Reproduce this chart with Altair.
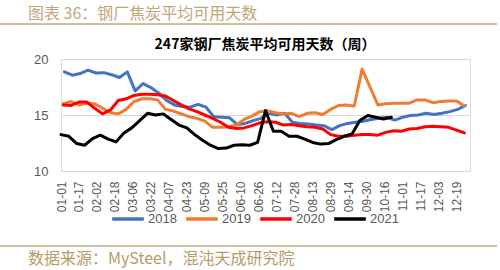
import json
import altair as alt
import pandas as pd

# ---------------- data ----------------
tick_labels = ["01-01", "01-17", "02-02", "02-18", "03-06", "03-22", "04-07", "04-23",
               "05-09", "05-25", "06-10", "06-26", "07-12", "07-28", "08-13", "08-29",
               "09-14", "09-30", "10-16", "11-01", "11-17", "12-03", "12-19"]
years = ["2018", "2019", "2020", "2021"]
colors = ["#4472C4", "#ED7D31", "#FF0000", "#000000"]
start_day = [3, 2, 2, 0]  # first weekly observation (day of year)

v2018 = [18.85, 18.55, 18.7, 19.0, 18.75, 18.78, 18.6, 18.35, 18.85, 17.15,
         17.8, 17.45, 16.95, 16.3, 15.9, 15.75, 15.7, 15.95, 15.7, 14.85,
         14.8, 14.75, 14.15, 14.25, 14.5, 14.7, 15.15, 15.0, 15.15, 14.35,
         14.25, 14.2, 14.1, 14.05, 13.7, 14.05, 14.25, 14.35, 14.45, 14.6,
         14.7, 14.8, 14.55, 14.8, 14.95, 15.0, 15.15, 15.05, 15.15, 15.3,
         15.5, 15.85]
v2019 = [16.0, 16.2, 15.9, 16.05, 16.0, 15.6, 15.2, 15.1, 15.5, 16.2,
         16.45, 16.45, 16.35, 15.5, 15.35, 15.1, 14.85, 14.7, 14.45, 13.9,
         13.9, 13.95, 14.1, 14.6, 14.9, 15.3, 15.35, 15.2, 15.1, 15.15,
         14.85, 15.15, 15.2, 15.05, 15.5, 15.85, 15.9, 15.8, 19.1, 17.5,
         15.9, 16.0, 16.05, 16.05, 16.05, 16.35, 16.35, 16.1, 16.2, 16.25,
         16.25, 15.8]
v2020 = [15.9, 15.85, 16.15, 16.15, 15.6, 15.1, 15.45, 16.3, 16.45, 16.75,
         16.85, 16.85, 16.8, 16.7, 16.3, 15.9, 15.55, 15.3, 15.0, 14.7,
         14.35, 13.9, 13.8, 13.85, 14.05, 14.3, 14.4, 14.35, 14.1, 14.15,
         14.05, 13.95, 13.9, 13.75, 13.25, 13.1, 13.1, 13.2, 13.25, 13.25,
         13.2, 13.45, 13.6, 13.55, 13.75, 13.8, 13.95, 14.0, 13.95, 13.9,
         13.65, 13.4]
v2021 = [13.25, 13.1, 12.45, 12.3, 12.9, 13.2, 12.85, 12.6, 13.4, 13.85,
         14.5, 15.15, 15.0, 15.1, 14.6, 14.1, 13.85, 13.25, 12.75, 12.3,
         12.0, 12.05, 12.3, 12.35, 12.3, 12.55, 15.4, 13.55, 13.55, 13.1,
         13.1, 12.85, 12.55, 12.4, 12.45, 12.8, 13.1, 13.3, 14.5, 14.95,
         14.8, 14.65, 14.8]

header_text = "图表 36：钢厂焦炭平均可用天数"
title_text = "247家钢厂焦炭平均可用天数（周）"
footer_text = "数据来源：MySteel，混沌天成研究院"

# --------------- table ----------------
rows = []
for yi, (yr, vals) in enumerate(zip(years, [v2018, v2019, v2020, v2021])):
    for k, v in enumerate(vals):
        rows.append({"year": yr, "order": yi, "day": start_day[yi] + 7 * k, "value": v})
df = pd.DataFrame(rows)

W, H = 409, 112
label_expr = json.dumps(tick_labels) + "[round(datum.value / 16)]"

lines = alt.Chart(df).mark_line(strokeWidth=3, strokeCap="round", strokeJoin="round").encode(
    x=alt.X("day:Q",
            scale=alt.Scale(domain=[0, 364], nice=False, zero=False),
            axis=alt.Axis(values=list(range(0, 353, 16)), labelExpr=label_expr,
                          labelAngle=270, labelFontSize=12, labelFont="Liberation Sans",
                          labelColor="#595959", labelPadding=10, ticks=False,
                          grid=False, domain=True, domainColor="#d9d9d9",
                          labelOverlap=False, title=None)),
    y=alt.Y("value:Q",
            scale=alt.Scale(domain=[10, 20], nice=False, zero=False),
            axis=alt.Axis(values=[10, 15, 20], labelFontSize=13, labelFont="Liberation Sans",
                          labelColor="#595959", labelPadding=13, ticks=False,
                          domain=False, grid=True, gridColor="#d9d9d9", title=None)),
    color=alt.Color("year:N", scale=alt.Scale(domain=years, range=colors),
                    legend=alt.Legend(orient="none", direction="horizontal",
                                      legendX=49, legendY=142, title=None,
                                      symbolType="stroke", symbolSize=1000,
                                      symbolStrokeWidth=3.5, labelFontSize=13,
                                      labelFont="Liberation Sans", labelColor="#595959",
                                      labelOffset=2, columnPadding=2, padding=0)),
    detail="year:N",
)

def text_layer(txt, x, y, size, color, weight="normal", align="left"):
    return alt.Chart(pd.DataFrame({"t": [txt]})).mark_text(
        align=align, baseline="middle", fontSize=size, font="Noto Sans CJK SC",
        color=color, fontWeight=weight
    ).encode(text="t:N", x=alt.value(x), y=alt.value(y))

header = text_layer(header_text, -33, -45.5, 16, "#c4a57a")
title = text_layer(title_text, 204, -14, 14, "#000000", weight="bold", align="center")
footer = text_layer(footer_text, -33, 200, 16, "#b89a68")

rule_df = pd.DataFrame({"a": [0]})
top_rule = alt.Chart(rule_df).mark_rule(color="#c2aa7e", strokeWidth=1.5).encode(
    x=alt.value(-61), x2=alt.value(436), y=alt.value(-35))
bottom_rule = alt.Chart(rule_df).mark_rule(color="#c2aa7e", strokeWidth=1.5).encode(
    x=alt.value(-61), x2=alt.value(436), y=alt.value(187))

chart = alt.layer(lines, header, title, footer, top_rule, bottom_rule).properties(
    width=W, height=H,
    autosize=alt.AutoSizeParams(type="none"),
    padding={"left": 61, "top": 59, "right": 30, "bottom": 99},
).configure_view(stroke=None).configure(background="white")

chart.save("out.html", embed_options={"renderer": "svg", "actions": False})
